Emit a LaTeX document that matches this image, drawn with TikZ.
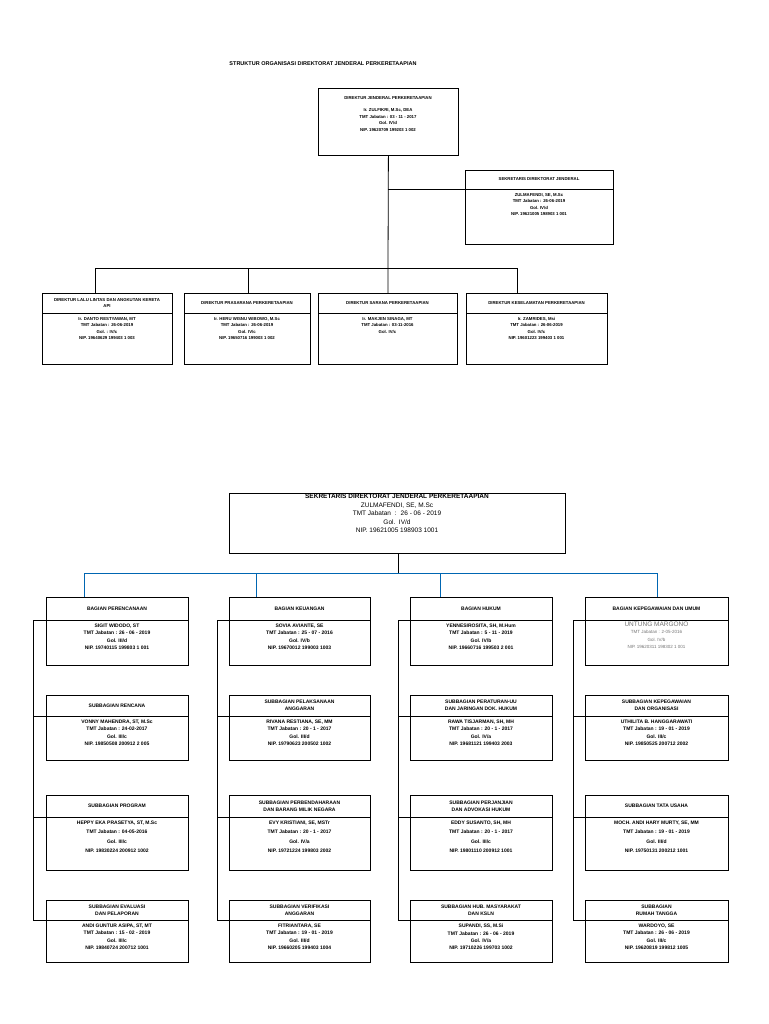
\documentclass[tikz,border=0pt]{standalone}
\usepackage{fontspec}
\setmainfont{Liberation Sans}
\begin{document}
\begin{tikzpicture}[x=1pt,y=-1pt,
  ln/.style={draw=black,line width=0.8pt},
  bl/.style={draw=black!50!blue!60!cyan,line width=0.8pt},
  bx/.style={draw=black,line width=0.8pt,inner sep=0pt,anchor=north west},
  tx/.style={align=center,inner sep=0pt,font=\fontsize{4.3}{6.5}\selectfont\bfseries},
  sx/.style={align=center,inner sep=0pt,font=\fontsize{5}{7.2}\selectfont\bfseries}]
\useasboundingbox (0,0) rectangle (768,1024);
% generic box: name, x1,y1,x2,y2, ydiv, style, header, body
\newcommand\orgbox[9]{%
  \pgfmathsetmacro\ww{#4-#2}\pgfmathsetmacro\hh{#5-#3}%
  \pgfmathsetmacro\cx{(#2+#4)/2}\pgfmathsetmacro\hy{(#3+#6)/2}%
  \node[bx,minimum width=\ww pt,minimum height=\hh pt] (#1) at (#2,#3) {};
  \draw[ln] (#2,#6) -- (#4,#6);
  \node[#7] (#1h) at (\cx,\hy) {#8};
  \node[#7,anchor=north] (#1b) at (\cx,#6+4) {#9};}
% ---------- top chart
\node[font=\fontsize{5.5}{6}\selectfont\bfseries] (title) at (323,64) {STRUKTUR ORGANISASI DIREKTORAT JENDERAL PERKERETAAPIAN};
\node[bx,minimum width=140pt,minimum height=67pt] (dj) at (318,88) {};
\node[tx,anchor=north] (djt) at (388,96) {DIREKTUR JENDERAL PERKERETAAPIAN\\[6pt]Ir. ZULFIKRI, M.Sc, DEA\\TMT Jabatan : 03 - 11 - 2017\\Gol. IV/d\\NIP. 19620709 199203 1 002};
\orgbox{sek}{465}{170}{613}{244}{189}{tx}{SEKRETARIS DIREKTORAT JENDERAL}{ZULMAFENDI, SE, M.Sc\\TMT Jabatan : 26-06-2019\\Gol. IV/d\\NIP. 19621005 198903 1 001}
\orgbox{d1}{42}{293}{172}{364}{313}{tx}{DIREKTUR LALU LINTAS DAN ANGKUTAN KERETA\\API}{Ir. DANTO RESTYAWAN, MT\\TMT Jabatan : 26-06-2019\\Gol. : IV/c\\NIP. 19640629 199403 1 003}
\orgbox{d2}{184}{293}{310}{364}{313}{tx}{DIREKTUR PRASARANA PERKERETAAPIAN}{Ir. HERU WISNU WIBOWO, M.Sc\\TMT Jabatan : 26-06-2019\\Gol. IV/c\\NIP. 19650716 199003 1 002}
\orgbox{d3}{318}{293}{457}{364}{313}{tx}{DIREKTUR SARANA PERKERETAAPIAN}{Ir. MAKJEN SINAGA, MT\\TMT Jabatan : 03-11-2016\\Gol. IV/c}
\orgbox{d4}{466}{293}{607}{364}{313}{tx}{DIREKTUR KESELAMATAN PERKERETAAPIAN}{Ir. ZAMRIDES, Msi\\TMT Jabatan : 26-06-2019\\Gol. IV/c\\NIP. 19601223 199403 1 001}
\coordinate (t1) at (95,293);
\coordinate (t2) at (248,293);
\coordinate (t4) at (517,293);
\draw[ln] (dj.south) -- (d3.north);
\draw[ln] (388,189) -- (sek.west |- 0,189);
\draw[ln] (t1) -- (95,268) -- (517,268) -- (t4);
\draw[ln] (248,268) -- (t2);
% ---------- bottom chart
\node[bx,minimum width=336pt,minimum height=60pt] (sb) at (229,493) {};
\node[align=center,inner sep=0pt,anchor=north,font=\fontsize{6.5}{8.5}\selectfont] (sbt) at (397,494) {\textbf{SEKRETARIS DIREKTORAT JENDERAL PERKERETAAPIAN}\\ZULMAFENDI, SE, M.Sc\\TMT Jabatan\ \ : \ 26 - 06 - 2019\\Gol.\ \ IV/d\\NIP. 19621005 198903 1001};
\draw[ln] (398,553) -- (398,573);
\draw[bl] (84,573) -- (657,573);
\foreach \x in {84,256,440,657} \draw[bl] (\x,573) -- (\x,597);
% columns
\orgbox{b1}{46}{597}{188}{665}{620}{sx}{BAGIAN PERENCANAAN}{SIGIT WIDODO, ST\\TMT Jabatan : 26 - 06 - 2019\\Gol. III/d\\NIP. 19740115 199803 1 001}
\orgbox{b2}{229}{597}{370}{665}{620}{sx}{BAGIAN KEUANGAN}{SOVIA AVIANTE, SE\\TMT Jabatan : 25 - 07 - 2016\\Gol. IV/b\\NIP. 19670012 199003 1003}
\orgbox{b3}{410}{597}{552}{665}{620}{sx}{BAGIAN HUKUM}{YENNESIROSITA, SH, M.Hum\\TMT Jabatan : 5 - 11 - 2019\\Gol. IV/b\\NIP. 19660716 199503 2 001}
\orgbox{b4}{585}{597}{728}{665}{620}{sx}{BAGIAN KEPEGAWAIAN DAN UMUM}{}
\node[align=center,inner sep=0pt,anchor=north,text=black!55,font=\fontsize{4.5}{7.2}\selectfont] (b4t) at (656.5,622) {{\fontsize{6.5}{7}\selectfont UNTUNG MARGONO}\\TMT Jabatan : 2-05-2016\\Gol. IV/b\\NIP. 19620311 198302 1 001};
% row 1
\orgbox{r11}{46}{695}{188}{760}{716}{sx}{SUBBAGIAN RENCANA}{VONNY MAHENDRA, ST, M.Sc\\TMT Jabatan : 24-02-2017\\Gol. III/c\\NIP. 19850508 200912 2 005}
\orgbox{r12}{229}{695}{370}{760}{716}{sx}{SUBBAGIAN PELAKSANAAN\\ANGGARAN}{RIVANA RESTIANA, SE, MM\\TMT Jabatan : 20 - 1 - 2017\\Gol. III/d\\NIP. 19790623 200502 1002}
\orgbox{r13}{410}{695}{552}{760}{716}{sx}{SUBBAGIAN PERATURAN-UU\\DAN JARINGAN DOK. HUKUM}{RAWA TISJARMAN, SH, MH\\TMT Jabatan : 20 - 1 - 2017\\Gol. IV/a\\NIP. 19681121 199403 2003}
\orgbox{r14}{585}{695}{728}{760}{716}{sx}{SUBBAGIAN KEPEGAWAIAN\\DAN ORGANISASI}{UTHILITA B. HANGGARAWATI\\TMT Jabatan : 19 - 01 - 2019\\Gol. III/c\\NIP. 19850525 200712 2002}
% row 2
\orgbox{r21}{46}{795}{188}{870}{817}{sx}{SUBBAGIAN PROGRAM}{HEPPY EKA PRASETYA, ST, M.Sc\\[2pt]TMT Jabatan : 04-05-2016\\[2pt]Gol. III/c\\[2pt]NIP. 19830224 200912 1002}
\orgbox{r22}{229}{795}{370}{870}{817}{sx}{SUBBAGIAN PERBENDAHARAAN\\DAN BARANG MILIK NEGARA}{EVY KRISTIANI, SE, MSTr\\[2pt]TMT Jabatan : 20 - 1 - 2017\\[2pt]Gol. IV/a\\[2pt]NIP. 19721224 199803 2002}
\orgbox{r23}{410}{795}{552}{870}{817}{sx}{SUBBAGIAN PERJANJIAN\\DAN ADVOKASI HUKUM}{EDDY SUSANTO, SH, MH\\[2pt]TMT Jabatan : 20 - 1 - 2017\\[2pt]Gol. III/c\\[2pt]NIP. 19801110 200912 1001}
\orgbox{r24}{585}{795}{728}{870}{817}{sx}{SUBBAGIAN TATA USAHA}{MOCH. ANDI HARY MURTY, SE, MM\\[2pt]TMT Jabatan : 19 - 01 - 2019\\[2pt]Gol. III/d\\[2pt]NIP. 19750131 200212 1001}
% row 3
\orgbox{r31}{46}{900}{188}{962}{920}{sx}{SUBBAGIAN EVALUASI\\DAN PELAPORAN}{ANDI GUNTUR ASIPA, ST, MT\\TMT Jabatan : 15 - 02 - 2019\\Gol. III/c\\NIP. 19840724 200712 1001}
\orgbox{r32}{229}{900}{370}{962}{920}{sx}{SUBBAGIAN VERIFIKASI\\ANGGARAN}{FITRIANTARA, SE\\TMT Jabatan : 19 - 01 - 2019\\Gol. III/d\\NIP. 19660205 199403 1004}
\orgbox{r33}{410}{900}{552}{962}{920}{sx}{SUBBAGIAN HUB. MASYARAKAT\\DAN KSLN}{SUPANDI, SS, M.Si\\TMT Jabatan : 26 - 06 - 2019\\Gol. IV/a\\NIP. 19710226 199703 1002}
\orgbox{r34}{585}{900}{728}{962}{920}{sx}{SUBBAGIAN\\RUMAH TANGGA}{WARDOYO, SE\\TMT Jabatan : 26 - 06 - 2019\\Gol. III/c\\NIP. 19620819 199812 1005}
% spines
\foreach \sx/\bx in {33/46,217/229,398/410,573/585}{
  \draw[ln] (\sx,620) -- (\sx,920);
  \foreach \yy in {620,716,817,920} \draw[ln] (\sx,\yy) -- (\bx,\yy);
}
\end{tikzpicture}
\end{document}
